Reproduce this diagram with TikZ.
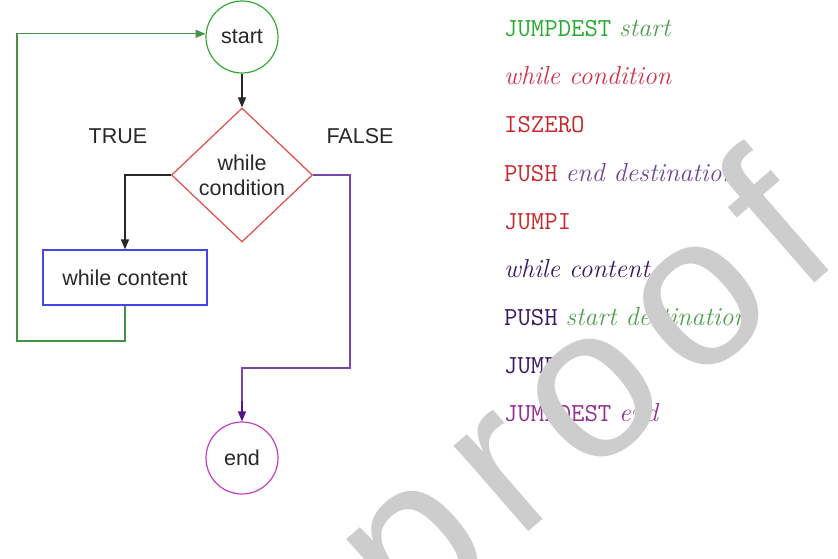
\documentclass[tikz,border=0pt]{standalone}
\usepackage{fontspec}
\newfontfamily\hel{Liberation Sans}
\newfontfamily\wmfont[LetterSpace=10]{Liberation Sans}
\usetikzlibrary{shapes.geometric,arrows.meta}
\definecolor{cgreen}{RGB}{50,170,50}
\definecolor{cgreenline}{RGB}{70,145,70}
\definecolor{cred}{RGB}{225,75,75}
\definecolor{cblue}{RGB}{70,70,230}
\definecolor{cpurple}{RGB}{120,70,175}
\definecolor{cindigo}{RGB}{80,20,140}
\definecolor{cmagenta}{RGB}{195,60,195}
\definecolor{ctext}{RGB}{40,40,40}
\definecolor{tgreen}{RGB}{40,170,50}
\definecolor{tgreenit}{RGB}{80,160,80}
\definecolor{tred}{RGB}{200,40,45}
\definecolor{tredit}{RGB}{210,50,75}
\definecolor{tviolet}{RGB}{110,70,150}
\definecolor{tindigo}{RGB}{55,25,100}
\definecolor{tmag}{RGB}{145,45,145}
\definecolor{wmark}{RGB}{205,205,205}
\begin{document}
\begin{tikzpicture}[x=1pt,y=-1pt,
  flow/.style={font=\hel\fontsize{21.5}{25}\selectfont, text=ctext, line width=1.2pt},
  term/.style={flow, circle, draw, minimum size=72pt, inner sep=0pt},
  cond/.style={flow, diamond, draw=cred, minimum width=141pt, minimum height=134pt, inner sep=0pt, align=center},
  proc/.style={flow, rectangle, draw=cblue, minimum width=164pt, minimum height=55pt, inner sep=0pt},
  lbl/.style={font=\hel\fontsize{21.5}{25}\selectfont, text=ctext},
  conn/.style={line width=1.2pt, -{Triangle[length=10pt,width=8pt]}},
  code/.style={anchor=base west, inner sep=0pt, font=\fontsize{26}{31}\selectfont},
  wm/.style={anchor=base west, inner sep=0pt, rotate=41, text=wmark, font=\wmfont\fontsize{215}{215}\selectfont}
]
\useasboundingbox (0,0) rectangle (838,558);
% flowchart
\node[term, draw=cgreen] (start) at (242,37) {start};
\node[cond] (cond) at (242,175) {while\\condition};
\node[proc] (body) at (125,277.5) {while content};
\node[term, draw=cmagenta] (end) at (242,458) {end};
\node[lbl] (true) at (118,136) {TRUE};
\node[lbl] (false) at (360,136) {FALSE};
\coordinate (gl) at (17,341);
\coordinate (fl) at (350,368);
\draw[conn, color=ctext] (start) -- (cond);
\draw[conn, color=ctext] (cond.west) -| (body.north);
\draw[conn, color=cgreenline] (body.south) |- (gl) |- (start.175);
\draw[line width=1.2pt, color=cpurple] (cond.east) -| (fl) -| ([yshift=20pt]end.north);
\draw[conn, color=cindigo] ([yshift=20pt]end.north) -- (end.north);
% code listing
\node[code] (l1) at (504,36.7) {\textcolor{tgreen}{\ttfamily JUMPDEST} \textcolor{tgreenit}{\itshape start}};
\node[code] (l2) at (504,84.8) {\textcolor{tredit}{\itshape while condition}};
\node[code] (l3) at (504,132.9) {\textcolor{tred}{\ttfamily ISZERO}};
\node[code] (l4) at (504,181.0) {\textcolor{tred}{\ttfamily PUSH} \textcolor{tviolet}{\itshape end destination}};
\node[code] (l5) at (504,229.1) {\textcolor{tred}{\ttfamily JUMPI}};
\node[code] (l6) at (504,277.2) {\textcolor{tindigo}{\itshape while content}};
\node[code] (l7) at (504,325.3) {\textcolor{tindigo}{\ttfamily PUSH} \textcolor{tgreenit}{\itshape start destination}};
\node[code] (l8) at (504,373.4) {\textcolor{tindigo}{\ttfamily JUMP}};
\node[code] (l9) at (504,421.5) {\textcolor{tmag}{\ttfamily JUMPDEST} \textcolor{tmag}{\itshape end}};
% watermark
\node[wm] (wmk) at (410.5,634.5) {proof};
\end{tikzpicture}
\end{document}
